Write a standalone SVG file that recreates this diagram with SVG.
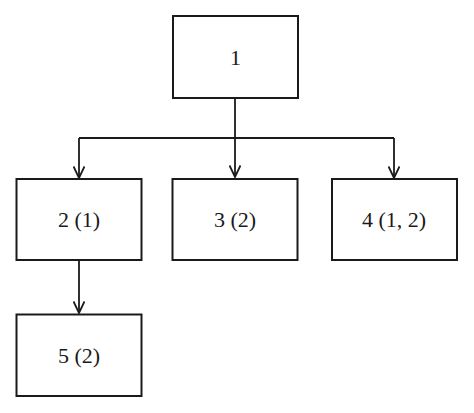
<svg xmlns="http://www.w3.org/2000/svg" width="474" height="413" viewBox="0 0 474 413">
<defs>
<marker id="arr" viewBox="0 0 14 12" refX="12.5" refY="6" markerWidth="14" markerHeight="12" markerUnits="userSpaceOnUse" orient="auto">
<path d="M1,0.5 L12.5,6 L1,11.5" fill="none" stroke="#1a1a1a" stroke-width="1.8"/>
</marker>
<style>
.box{fill:#fff;stroke:#1a1a1a;stroke-width:2}
.lbl{font-family:"Liberation Serif","DejaVu Serif",serif;font-size:22px;fill:#1a1a1a;text-anchor:middle;dominant-baseline:central}
.ln{fill:none;stroke:#1a1a1a;stroke-width:1.8}
</style>
</defs>
<rect width="474" height="413" fill="#fff"/>
<g id="connectors">
<path class="ln" d="M235,98 V177" marker-end="url(#arr)"/>
<path class="ln" d="M79,138 H394"/>
<path class="ln" d="M79,138 V178" marker-end="url(#arr)"/>
<path class="ln" d="M394,138 V178" marker-end="url(#arr)"/>
<path class="ln" d="M79,260 V313" marker-end="url(#arr)"/>
</g>
<g id="n1"><rect class="box" x="173" y="16" width="125" height="82"/><text class="lbl" x="235.5" y="57">1</text></g>
<g id="n2"><rect class="box" x="16.5" y="179" width="125" height="81"/><text class="lbl" x="79" y="219">2 (1)</text></g>
<g id="n3"><rect class="box" x="172.5" y="179" width="125" height="81"/><text class="lbl" x="235" y="219">3 (2)</text></g>
<g id="n4"><rect class="box" x="332" y="179" width="125" height="81"/><text class="lbl" x="394" y="219">4 (1, 2)</text></g>
<g id="n5"><rect class="box" x="16.5" y="314.5" width="125" height="81.5"/><text class="lbl" x="79" y="355">5 (2)</text></g>
</svg>
